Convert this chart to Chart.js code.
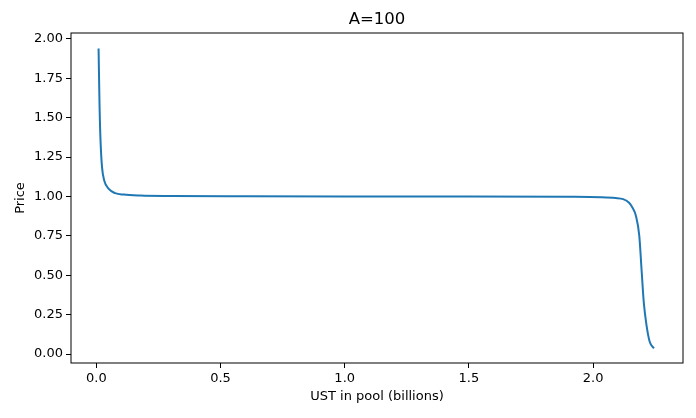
<!DOCTYPE html>
<html>
<head>
<meta charset="utf-8">
<script src="https://cdn.jsdelivr.net/npm/chart.js@4/dist/chart.umd.min.js"></script>
<style>
  html, body { margin: 0; padding: 0; background: #fff; }
  #wrap { width: 696px; height: 418px; }
</style>
</head>
<body>
<div id="wrap"><canvas id="chart"></canvas></div>
<script>
var ustBillions = [0.009, 0.013, 0.017, 0.023, 0.032, 0.05, 0.076, 0.11, 0.177, 0.3, 0.6, 1.0, 1.5, 1.9, 2.03, 2.09, 2.121, 2.145, 2.16, 2.172, 2.186, 2.195, 2.204, 2.215, 2.228, 2.245];
var price = [1.94, 1.57, 1.35, 1.185, 1.10, 1.048, 1.021, 1.012, 1.006, 1.003, 1.001, 1.0, 1.0, 0.998, 0.995, 0.99, 0.983, 0.96, 0.925, 0.88, 0.75, 0.54, 0.33, 0.184, 0.078, 0.036];
var xTicks = [0.0, 0.5, 1.0, 1.5, 2.0];
var yTicks = [0.0, 0.25, 0.5, 0.75, 1.0, 1.25, 1.5, 1.75, 2.0];
var chartTitle = 'A=100';

var font = 'DejaVu Sans';

// full box around the plot plus the title over the plot centre, like matplotlib
var boxPlugin = {
  id: 'box',
  afterDraw: function (chart) {
    var a = chart.chartArea, ctx = chart.ctx;
    ctx.save();
    ctx.strokeStyle = '#000';
    ctx.lineWidth = 1;
    ctx.strokeRect(a.left, a.top, a.right - a.left, a.bottom - a.top);
    ctx.fillStyle = '#000';
    ctx.font = '16.5px "DejaVu Sans"';
    ctx.textAlign = 'center';
    ctx.textBaseline = 'middle';
    ctx.fillText(chartTitle, (a.left + a.right) / 2, 20);
    ctx.restore();
  }
};

new Chart(document.getElementById('chart'), {
  type: 'line',
  data: {
    datasets: [{
      data: ustBillions.map(function (x, i) { return { x: x, y: price[i] }; }),
      borderColor: '#1f77b4',
      borderWidth: 2,
      pointRadius: 0,
      fill: false,
      cubicInterpolationMode: 'monotone'
    }]
  },
  options: {
    responsive: true,
    maintainAspectRatio: false,
    animation: false,
    layout: { padding: { top: 33, right: 13, bottom: 0, left: 0 } },
    scales: {
      x: {
        type: 'linear',
        min: -0.102,
        max: 2.362,
        afterBuildTicks: function (s) { s.ticks = xTicks.map(function (v) { return { value: v }; }); },
        afterFit: function (s) { s.height = 55; },
        grid: { display: true, drawOnChartArea: false, drawTicks: true, tickLength: 5, color: '#000' },
        border: { display: false },
        ticks: {
          color: '#000', font: { family: font, size: 13 }, padding: 3, maxRotation: 0,
          callback: function (v) { return v.toFixed(1); }
        },
        title: { display: true, text: 'UST in pool (billions)', color: '#000', font: { family: font, size: 13 }, padding: { top: 4, bottom: 14 } }
      },
      y: {
        min: -0.057,
        max: 2.038,
        afterBuildTicks: function (s) { s.ticks = yTicks.map(function (v) { return { value: v }; }); },
        afterFit: function (s) { s.width = 71; },
        grid: { display: true, drawOnChartArea: false, drawTicks: true, tickLength: 5, color: '#000' },
        border: { display: false },
        ticks: {
          color: '#000', font: { family: font, size: 13 }, padding: 3,
          callback: function (v) { return v.toFixed(2); }
        },
        title: { display: true, text: 'Price', color: '#000', font: { family: font, size: 13 }, padding: { top: 13, bottom: 4 } }
      }
    },
    plugins: {
      legend: { display: false },
      tooltip: { enabled: false },
      title: { display: false }
    }
  },
  plugins: [boxPlugin]
});
</script>
</body>
</html>
